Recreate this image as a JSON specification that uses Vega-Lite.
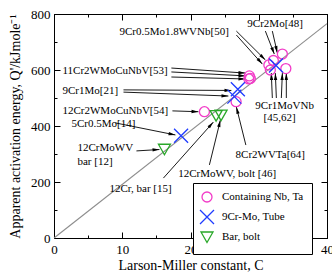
{
  "$schema": "https://vega.github.io/schema/vega-lite/v6.json",
  "width": 273,
  "height": 224,
  "autosize": {"type": "none"},
  "padding": {"left": 54, "top": 14, "right": 5, "bottom": 42},
  "background": "white",
  "config": {
    "view": {"stroke": "black", "strokeWidth": 1},
    "font": "Liberation Serif",
    "axis": {"grid": false, "domainColor": "black", "tickColor": "black", "labelColor": "black", "titleColor": "black", "labelFont": "Liberation Serif", "titleFont": "Liberation Serif", "labelFontSize": 13, "titleFontSize": 14, "titleFontWeight": "normal", "tickWidth": 1, "labelFlush": false, "labelOverlap": false}
  },
  "datasets": {
    "diag": [{"C": 0, "Q": 0}, {"C": 40, "Q": 765.6}],
    "points": [
      {"C": 33.46, "Q": 657, "group": "Containing Nb, Ta"},
      {"C": 31.48, "Q": 618, "group": "Containing Nb, Ta"},
      {"C": 32.14, "Q": 634, "group": "Containing Nb, Ta"},
      {"C": 33.97, "Q": 605, "group": "Containing Nb, Ta"},
      {"C": 31.70, "Q": 600, "group": "Containing Nb, Ta"},
      {"C": 28.62, "Q": 579, "group": "Containing Nb, Ta"},
      {"C": 28.77, "Q": 570, "group": "Containing Nb, Ta"},
      {"C": 28.55, "Q": 568, "group": "Containing Nb, Ta"},
      {"C": 26.68, "Q": 487, "group": "Containing Nb, Ta"},
      {"C": 22.04, "Q": 451, "group": "Containing Nb, Ta"},
      {"C": 32.53, "Q": 616, "group": "9Cr-Mo, Tube"},
      {"C": 26.94, "Q": 531, "group": "9Cr-Mo, Tube"},
      {"C": 26.43, "Q": 505, "group": "9Cr-Mo, Tube"},
      {"C": 18.62, "Q": 365, "group": "9Cr-Mo, Tube"},
      {"C": 23.75, "Q": 437, "group": "Bar, bolt"},
      {"C": 24.48, "Q": 439, "group": "Bar, bolt"},
      {"C": 16.18, "Q": 317, "group": "Bar, bolt"}
    ],
    "arrows": [
      {"C": 26.72, "Q": 739, "C2": 30.97, "Q2": 636},
      {"C": 26.72, "Q": 725, "C2": 30.53, "Q2": 621},
      {"C": 30.97, "Q": 739, "C2": 32.28, "Q2": 657},
      {"C": 31.99, "Q": 739, "C2": 32.72, "Q2": 661},
      {"C": 17.20, "Q": 607, "C2": 28.04, "Q2": 589},
      {"C": 17.20, "Q": 593, "C2": 28.04, "Q2": 579},
      {"C": 17.20, "Q": 575, "C2": 28.04, "Q2": 568},
      {"C": 10.18, "Q": 529, "C2": 25.99, "Q2": 527},
      {"C": 10.18, "Q": 521, "C2": 25.55, "Q2": 507},
      {"C": 17.35, "Q": 454, "C2": 21.16, "Q2": 451},
      {"C": 9.00, "Q": 411, "C2": 17.79, "Q2": 368},
      {"C": 12.08, "Q": 311, "C2": 15.45, "Q2": 316},
      {"C": 16.03, "Q": 214, "C2": 23.35, "Q2": 414},
      {"C": 22.77, "Q": 261, "C2": 24.38, "Q2": 421},
      {"C": 28.11, "Q": 332, "C2": 26.72, "Q2": 468},
      {"C": 31.99, "Q": 500, "C2": 31.84, "Q2": 589},
      {"C": 32.58, "Q": 500, "C2": 32.43, "Q2": 589},
      {"C": 33.31, "Q": 500, "C2": 33.46, "Q2": 589},
      {"C": 34.04, "Q": 500, "C2": 34.04, "Q2": 589}
    ],
    "labels": [
      {"C": 9.59, "Q": 736, "text": "9Cr0.5Mo1.8WVNb[50]"},
      {"C": 28.33, "Q": 764, "text": "9Cr2Mo[48]"},
      {"C": 1.24, "Q": 596, "text": "11Cr2WMoCuNbV[53]"},
      {"C": 1.24, "Q": 525, "text": "9Cr1Mo[21]"},
      {"C": 1.24, "Q": 454, "text": "12Cr2WMoCuNbV[54]"},
      {"C": 2.56, "Q": 407, "text": "5Cr0.5Mo[14]"},
      {"C": 3.44, "Q": 321, "text": "12CrMoWV"},
      {"C": 3.44, "Q": 271, "text": "bar [12]"},
      {"C": 8.13, "Q": 175, "text": "12Cr, bar [15]"},
      {"C": 18.2, "Q": 229, "text": "12CrMoWV,  bolt [46]"},
      {"C": 26.6, "Q": 296, "text": "8Cr2WVTa[64]"},
      {"C": 29.5, "Q": 471, "text": "9Cr1MoVNb"},
      {"C": 30.7, "Q": 429, "text": "[45,62]"}
    ]
  },
  "resolve": {"axis": {"x": "independent", "y": "independent"}},
  "layer": [
    {
      "data": {"name": "diag"},
      "mark": {"type": "line", "color": "#8c8c8c", "strokeWidth": 1.1},
      "encoding": {
        "x": {"field": "C", "type": "quantitative", "scale": {"domain": [0, 40], "nice": false, "zero": false},
          "axis": {"orient": "bottom", "values": [0, 10, 20, 30, 40], "tickSize": -6, "labelPadding": 11, "title": "Larson-Miller constant, C", "titlePadding": 2}},
        "y": {"field": "Q", "type": "quantitative", "scale": {"domain": [0, 800], "nice": false, "zero": false},
          "axis": {"orient": "left", "values": [0, 200, 400, 600, 800], "tickSize": -6, "labelPadding": 10, "title": "Apparent activation energy,  Q'/kJmole⁻¹", "titlePadding": 8}}
      }
    },
    {
      "data": {"name": "arrows"},
      "mark": {"type": "rule", "color": "black", "strokeWidth": 0.9},
      "encoding": {
        "x": {"field": "C", "type": "quantitative", "axis": {"orient": "top", "values": [0, 10, 20, 30, 40], "tickSize": -6, "labels": false, "title": null}},
        "y": {"field": "Q", "type": "quantitative", "axis": {"orient": "right", "values": [0, 200, 400, 600, 800], "tickSize": -6, "labels": false, "title": null}},
        "x2": {"field": "C2"},
        "y2": {"field": "Q2"}
      }
    },
    {
      "data": {"name": "arrows"},
      "transform": [{"calculate": "atan2((datum.C2 - datum.C) * 6.825, (datum.Q2 - datum.Q) * 0.28) * 180 / PI", "as": "ang"}],
      "mark": {"type": "point", "shape": "M0,0L-0.55,2.3L0.55,2.3Z", "filled": true, "color": "black", "size": 36, "strokeWidth": 0, "opacity": 1},
      "encoding": {
        "x": {"field": "C2", "type": "quantitative", "axis": {"orient": "top", "values": [5, 15, 25, 35], "tickSize": -3, "labels": false, "domain": false, "title": null}},
        "y": {"field": "Q2", "type": "quantitative", "axis": {"orient": "right", "values": [100, 300, 500, 700], "tickSize": -3, "labels": false, "domain": false, "title": null}},
        "angle": {"field": "ang", "type": "quantitative", "scale": null}
      }
    },
    {
      "data": {"name": "points"},
      "mark": {"type": "point", "filled": false, "size": 100, "strokeWidth": 1.3, "opacity": 1},
      "encoding": {
        "x": {"field": "C", "type": "quantitative", "axis": {"orient": "bottom", "values": [5, 15, 25, 35], "tickSize": -3, "labels": false, "domain": false, "title": null}},
        "y": {"field": "Q", "type": "quantitative", "axis": {"orient": "left", "values": [100, 300, 500, 700], "tickSize": -3, "labels": false, "domain": false, "title": null}},
        "color": {"field": "group", "type": "nominal",
          "scale": {"domain": ["Containing Nb, Ta", "9Cr-Mo, Tube", "Bar, bolt"], "range": ["#f23cc8", "#1f3cff", "#2aa82a"]},
          "legend": {"orient": "none", "legendX": 139, "legendY": 169, "title": null, "strokeColor": "black", "fillColor": "white", "padding": 8, "labelFont": "Liberation Serif", "labelFontSize": 11, "labelColor": "black", "symbolStrokeWidth": 1.3, "labelOffset": 9}},
        "shape": {"field": "group", "type": "nominal",
          "scale": {"domain": ["Containing Nb, Ta", "9Cr-Mo, Tube", "Bar, bolt"], "range": ["circle", "M-1.4,-1.4L1.4,1.4M1.4,-1.4L-1.4,1.4", "M-1.2,-1L1.2,-1L0,1.1Z"]},
          "legend": {"orient": "none", "legendX": 139, "legendY": 169, "title": null, "strokeColor": "black", "fillColor": "white", "padding": 8, "labelFont": "Liberation Serif", "labelFontSize": 11, "labelColor": "black", "symbolStrokeWidth": 1.3, "labelOffset": 9}}
      }
    },
    {
      "data": {"name": "labels"},
      "mark": {"type": "text", "align": "left", "baseline": "middle", "font": "Liberation Serif", "fontSize": 11, "color": "black"},
      "encoding": {
        "x": {"field": "C", "type": "quantitative", "axis": null},
        "y": {"field": "Q", "type": "quantitative", "axis": null},
        "text": {"field": "text"}
      }
    }
  ]
}
